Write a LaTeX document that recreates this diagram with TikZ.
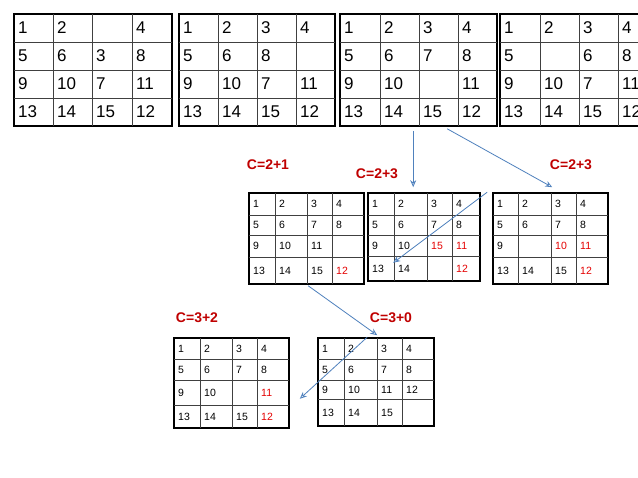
\documentclass[tikz,border=0pt]{standalone}
\usepackage{fontspec}
\setmainfont{Liberation Sans}
\usetikzlibrary{fit,calc,arrows.meta}
\definecolor{arrblue}{RGB}{79,129,189}
\definecolor{labred}{RGB}{192,0,0}
\newcommand\rd[1]{\textcolor{red!90!black}{#1}}
\newcommand\mygrid[5]{%
  \node[draw, line width=1.6pt, inner sep=0pt, fit={({{#2}[0]},{{#3}[0]}) ({{#2}[4]},{{#3}[4]})}] (#1) {};
  \foreach \c in {1,2,3}{\pgfmathsetmacro\xx{{#2}[\c]}
    \draw[gridline] (\xx,{{#3}[0]}) -- (\xx,{{#3}[4]});
    \pgfmathsetmacro\yy{{#3}[\c]}
    \draw[gridline] ({{#2}[0]},\yy) -- ({{#2}[4]},\yy);}
  \foreach \t [count=\i from 0] in {#4}{%
    \pgfmathtruncatemacro\r{int(\i/4)}\pgfmathtruncatemacro\c{mod(\i,4)}
    \pgfmathsetmacro\xx{{#2}[\c]}
    \pgfmathsetmacro\ya{{#3}[\r]}\pgfmathtruncatemacro\rr{\r+1}\pgfmathsetmacro\yb{{#3}[\rr]}
    \node[anchor=west, inner sep=0pt, font=#5] at (\xx+4,{(\ya+\yb)/2}) {\t};}
}
\tikzset{gridline/.style={line width=0.7pt, black!75},
  arr/.style={draw=arrblue, line width=0.8pt, -{Stealth[length=7pt,width=6pt,open]}},
  lab/.style={text=labred, font=\bfseries\fontsize{14}{14}\selectfont}}
\begin{document}
\begin{tikzpicture}[x=1pt,y=-1pt]
\useasboundingbox (0,0) rectangle (638,478);
\clip (0,0) rectangle (638,478);
\fill[white] (0,0) rectangle (638,478);
\def\big{\fontsize{17}{17}\selectfont}
\def\sm{\fontsize{10.5}{11}\selectfont}
\mygrid{g1}{14,53,92,132,172}{14,42,70,98,126}{1,2,,4,5,6,3,8,9,10,7,11,13,14,15,12}{\big}
\mygrid{g2}{179,218,257,296,335}{14,42,70,98,126}{1,2,3,4,5,6,8,,9,10,7,11,13,14,15,12}{\big}
\mygrid{g3}{340,380,419,458,497}{14,42,70,98,126}{1,2,3,4,5,6,7,8,9,10,,11,13,14,15,12}{\big}
\mygrid{g4}{500,540,579,618,657}{14,42,70,98,126}{1,2,3,4,5,,6,8,9,10,7,11,13,14,15,12}{\big}
\mygrid{gA}{249,275,307,332,364}{193,215,235,257,284}{1,2,3,4,5,6,7,8,9,10,11,,13,14,15,\rd{12}}{\sm}
\mygrid{gB}{368,394,427,452,480}{193,215,235,256,281}{1,2,3,4,5,6,7,8,9,10,\rd{15},\rd{11},13,14,,\rd{12}}{\sm}
\mygrid{gC}{493,518,551,576,608}{193,215,235,257,284}{1,2,3,4,5,6,7,8,9,,\rd{10},\rd{11},13,14,15,\rd{12}}{\sm}
\mygrid{gD}{174,200,232,257,289}{338,359,380,405,428}{1,2,3,4,5,6,7,8,9,10,,\rd{11},13,14,15,\rd{12}}{\sm}
\mygrid{gE}{318,344,377,402,434}{338,359,380,399,426}{1,2,3,4,5,6,7,8,9,10,11,12,13,14,15,}{\sm}
\node[lab] (l1) at (268,165) {C=2+1};
\node[lab] (l2) at (377,174) {C=2+3};
\node[lab] (l3) at (571,165) {C=2+3};
\node[lab] (l4) at (197,318) {C=3+2};
\node[lab] (l5) at (391,318) {C=3+0};
\draw[arr] ($(g3.south west)+(74,4)$) -- ($(gB.north west)+(46,-5)$);
\draw[arr] ($(g3.south west)+(108,2)$) -- ($(gC.north west)+(60,-5)$);
\draw[arr] ($(gC.north west)+(-5,0)$) -- ($(gB.south west)+(26,-19)$);
\draw[arr] ($(gA.south west)+(60,1)$) -- ($(gE.north west)+(60,-2)$);
\draw[arr] ($(gE.north west)+(50,0)$) -- ($(gD.south east)+(10,-30)$);
\end{tikzpicture}
\end{document}
